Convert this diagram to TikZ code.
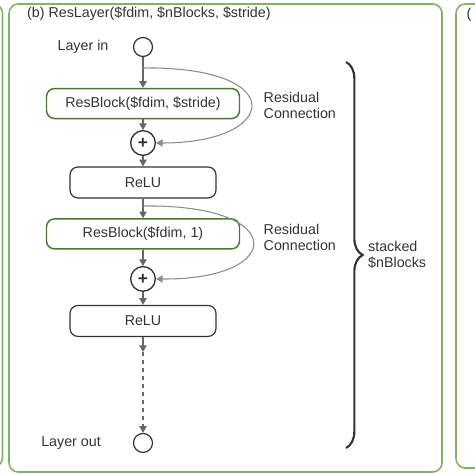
\documentclass[tikz,border=0pt]{standalone}
\usepackage{fontspec}
\setmainfont{Liberation Sans}
\usetikzlibrary{arrows.meta,decorations.pathreplacing}
\definecolor{panelgreen}{HTML}{82B366}
\definecolor{blockgreen}{HTML}{4A7A30}
\definecolor{flowgray}{HTML}{666666}
\definecolor{resgray}{HTML}{8C8C8C}
\definecolor{textgray}{HTML}{333333}

\begin{document}
\begin{tikzpicture}[x=0.75pt, y=-0.75pt, auto,
    >={Triangle[length=5pt,width=5.5pt]},
    every node/.style={font=\fontsize{10.7}{12}\selectfont, text=textgray},
    panel/.style={draw=panelgreen, line width=1.2pt, rounded corners=7pt},
    resblock/.style={draw=blockgreen, line width=1.1pt, rounded corners=6pt, minimum width=144.75pt, minimum height=22.5pt, inner sep=0pt},
    relu/.style={draw=textgray, line width=0.9pt, rounded corners=6pt, minimum width=109.5pt, minimum height=23.25pt, inner sep=0pt},
    port/.style={circle, draw=textgray, line width=0.9pt, minimum size=14.25pt, inner sep=0pt},
    adder/.style={circle, draw=textgray, line width=1pt, minimum size=18.5pt, inner sep=0pt, font=\fontsize{13}{13}\selectfont\bfseries},
    flow/.style={->, draw=flowgray, line width=0.9pt},
    residual/.style={->, draw=resgray, line width=0.8pt}]
  \useasboundingbox (0,0) rectangle (474,474);
  % panels
  \draw [panel] (-100,4) rectangle (2.5,467);
  \draw [panel] (9,4) rectangle (442,472);
  \draw [panel] (456,4) rectangle (600,468);
  \node (panelc) [anchor=west] at (462,15) {(};
  \node (title) [anchor=west] at (22.5,14) {(b) ResLayer(\$fdim, \$nBlocks, \$stride)};
  % layer
  \node (in) [port] at (143,47) {};
  \node (lin) [node distance=45pt, left of=in] {Layer in};
  \node (rb1) [resblock, node distance=42.4pt, below of=in] {ResBlock(\$fdim, \$stride)};
  \node (add1) [adder, node distance=29.6pt, below of=rb1] {+};
  \node (relu1) [relu, node distance=29.6pt, below of=add1] {ReLU};
  \node (rb2) [resblock, node distance=38.6pt, below of=relu1] {ResBlock(\$fdim, 1)};
  \node (add2) [adder, node distance=33.75pt, below of=rb2] {+};
  \node (relu2) [relu, node distance=31.5pt, below of=add2] {ReLU};
  \node (out) [port, node distance=91.5pt, below of=relu2] {};
  \node (lout) [node distance=54pt, left of=out] {Layer out};
  \coordinate (split1) at (143,68);
  \coordinate (split2) at (143,206);
  \coordinate (gap) at (143,352);
  \draw [flow] (in) to (rb1);
  \draw [flow] (rb1) to (add1);
  \draw [flow] (add1) to (relu1);
  \draw [flow] (relu1) to (rb2);
  \draw [flow] (rb2) to (add2);
  \draw [flow] (add2) to (relu2);
  \draw [flow] (relu2) to (gap);
  \draw [flow, dash pattern=on 3pt off 3pt] (gap) to (out);
  \draw [residual] (split1) .. controls (290,66) and (280,143) .. (add1.east);
  \draw [residual] (split2) .. controls (290,204) and (285,280) .. (add2.east);
  \node (res1) [anchor=west, align=left] at (259,105) {Residual\\Connection};
  \node (res2) [anchor=west, align=left] at (259,237) {Residual\\Connection};
  % brace
  \coordinate (bracetop) at (346,62);
  \coordinate (bracebot) at (346,448);
  \draw [decorate, decoration={brace, amplitude=12.5pt}, draw=textgray, line width=1.6pt] (bracetop) -- (bracebot);
  \node (stack) [anchor=west, align=left] at (363.5,255) {stacked\\\$nBlocks};
\end{tikzpicture}
\end{document}
